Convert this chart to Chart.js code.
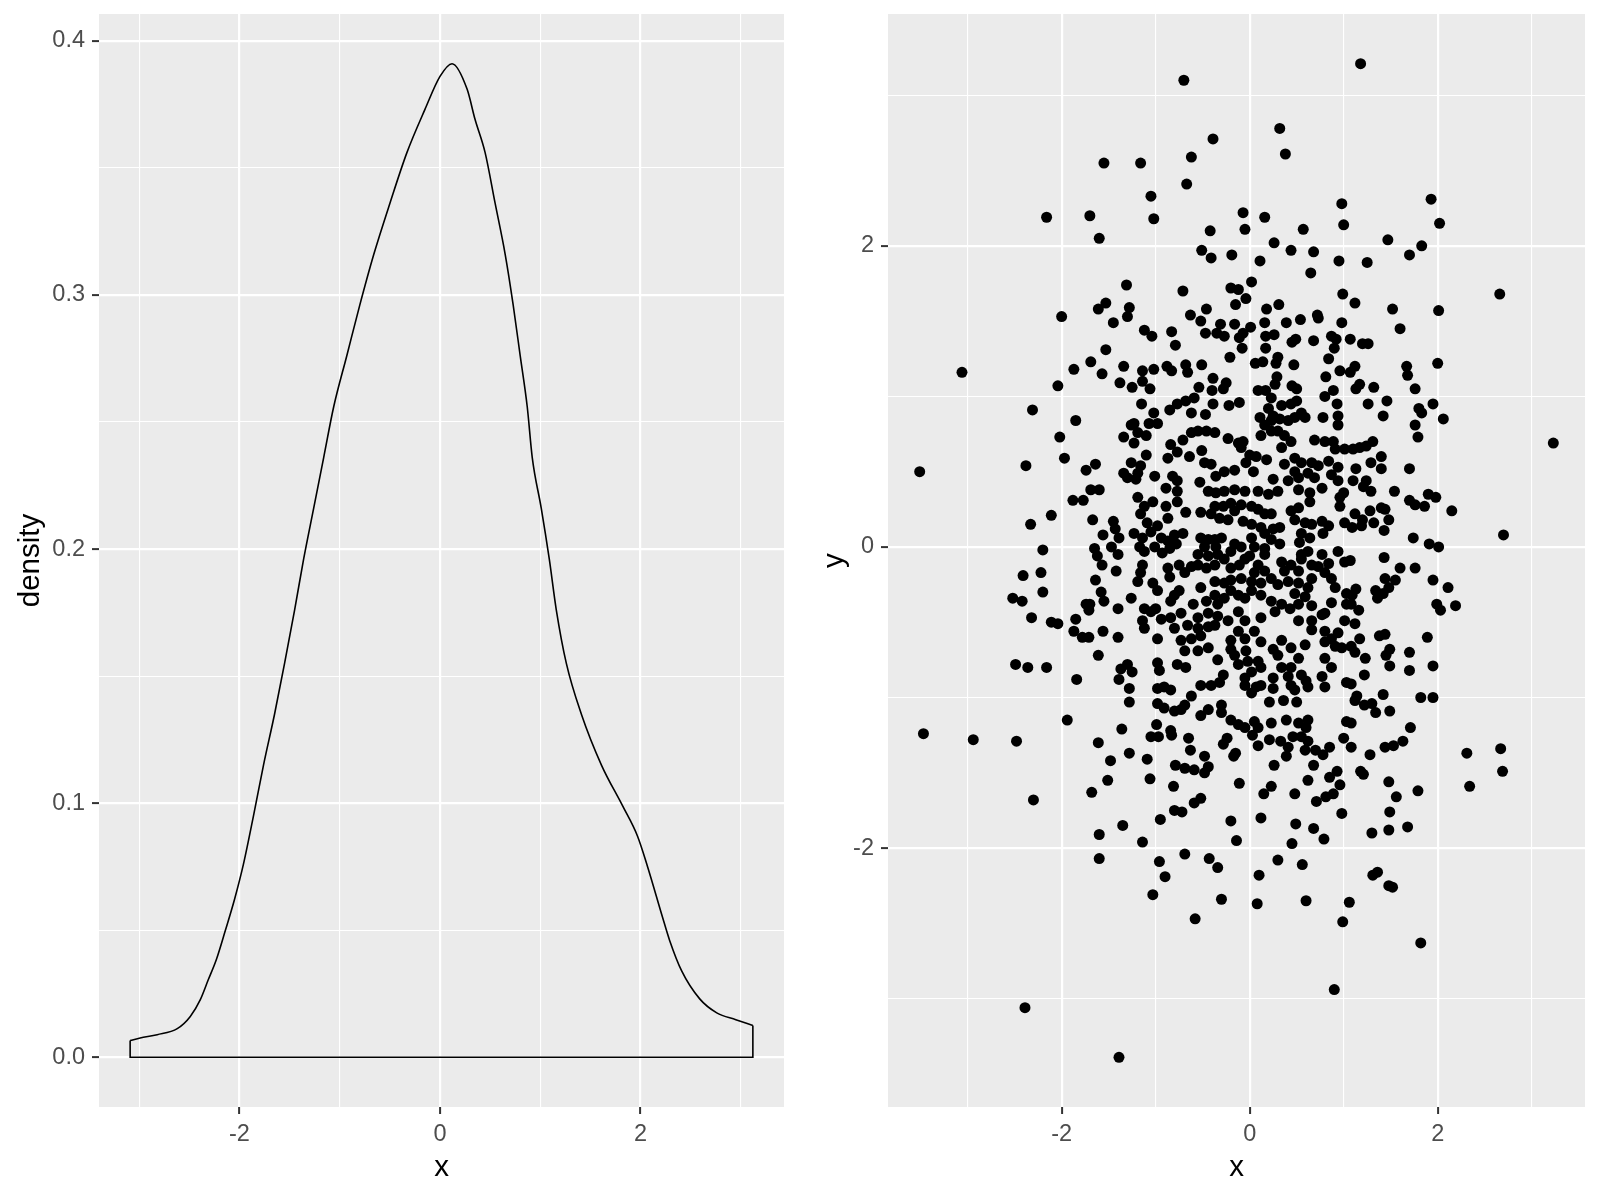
<!DOCTYPE html>
<html>
<head>
<meta charset="UTF-8">
<title>density + scatter</title>
<style>
  body { margin: 0; background: #fff; }
  .wrap { position: relative; width: 1600px; height: 1200px; }
  .panel { position: absolute; top: 0; width: 800px; height: 1200px; }
</style>
<script src="https://cdn.jsdelivr.net/npm/chart.js"></script>
</head>
<body>
<div class="wrap">
  <div class="panel" style="left:0"><canvas id="densityChart" width="800" height="1200"></canvas></div>
  <div class="panel" style="left:800px"><canvas id="scatterChart" width="800" height="1200"></canvas></div>
</div>
<script>
// density curve
const densityX = [-3.09, -2.99, -2.82, -2.62, -2.49, -2.39, -2.31, -2.23, -2.14, -2.05, -1.96, -1.86, -1.76, -1.65, -1.55, -1.45, -1.36, -1.26, -1.16, -1.06, -0.93, -0.80, -0.66, -0.50, -0.33, -0.15, 0.00, 0.12, 0.27, 0.35, 0.45, 0.55, 0.65, 0.73, 0.80, 0.87, 0.92, 1.01, 1.09, 1.16, 1.26, 1.41, 1.61, 1.82, 1.97, 2.07, 2.22, 2.29, 2.41, 2.59, 2.76, 2.95, 3.12];
const densityY = [0.0066, 0.0076, 0.0089, 0.0113, 0.0161, 0.0227, 0.0306, 0.0385, 0.050, 0.062, 0.076, 0.095, 0.115, 0.135, 0.155, 0.176, 0.196, 0.216, 0.236, 0.256, 0.276, 0.296, 0.316, 0.336, 0.356, 0.373, 0.386, 0.391, 0.381, 0.369, 0.356, 0.336, 0.316, 0.296, 0.276, 0.256, 0.236, 0.216, 0.196, 0.176, 0.155, 0.135, 0.115, 0.099, 0.087, 0.075, 0.055, 0.046, 0.034, 0.023, 0.0175, 0.0148, 0.0125];

// scatter points [x, y]
const scatterPoints = [
  [-1.55,2.55],[-2.16,2.19],[-1.70,2.20],[-1.60,2.05],[-1.53,1.62],[-1.61,1.58],[-2.00,1.53],[-1.45,1.49],[-1.53,1.31],[-1.69,1.23],
  [-1.34,1.20],[-1.87,1.18],[-1.57,1.15],[-1.38,1.09],[-3.06,1.16],[-2.04,1.07],
  [-0.70,3.10],[0.32,2.78],[-0.39,2.71],[0.38,2.61],[-1.16,2.55],[-0.62,2.59],[-0.67,2.41],[-1.05,2.33],[-1.02,2.18],[0.98,2.28],
  [1.00,2.14],[-0.07,2.22],[-0.05,2.11],[0.16,2.19],[0.57,2.11],[-0.42,2.10],[0.26,2.02],[-0.51,1.97],[-0.41,1.92],[-0.19,1.94],
  [0.44,1.97],[0.68,1.96],[0.11,1.90],[0.95,1.90],[0.65,1.82],[-1.31,1.74],[-0.71,1.70],[0.02,1.76],[-0.20,1.72],[-0.12,1.71],
  [-0.04,1.65],[-0.15,1.61],[0.99,1.68],[-1.28,1.59],[-1.30,1.53],[-0.46,1.58],[-0.63,1.54],[-0.52,1.50],[0.18,1.58],[0.31,1.61],
  [-0.31,1.48],[-0.16,1.48],[0.01,1.46],[0.16,1.49],[0.39,1.49],[0.54,1.51],[0.72,1.54],[0.73,1.52],[0.98,1.49],[-1.12,1.44],
  [-1.04,1.40],[-0.83,1.43],[-0.47,1.42],[-0.35,1.42],[-0.27,1.40],[-0.07,1.42],[-0.11,1.39],[0.17,1.40],[0.26,1.41],[0.45,1.36],
  [0.49,1.38],[0.68,1.37],[0.87,1.40],[0.92,1.38],[0.90,1.32],[-0.79,1.34],[-0.08,1.32],[0.17,1.32],[-0.21,1.26],[0.30,1.26],
  [0.28,1.22],[0.06,1.22],[0.14,1.23],[0.47,1.21],[0.84,1.25],[0.96,1.17],[0.81,1.13],[-1.14,1.17],[-1.02,1.18],[-0.88,1.20],
  [-0.83,1.17],[-0.68,1.21],[-0.66,1.16],[-0.51,1.21],[-0.39,1.12],[-0.54,1.06],[-1.14,1.10],[-1.25,1.06],[-1.06,1.05],[-0.25,1.09],
  [-0.28,1.05],[-0.40,1.04],[0.29,1.13],[0.27,1.08],[0.45,1.07],[0.50,1.05],[0.09,1.04],[0.17,1.04],[0.89,1.04],
  [1.18,3.21],[1.93,2.31],[2.02,2.15],[1.47,2.04],[1.83,2.00],[1.70,1.94],[1.25,1.89],[2.66,1.68],[1.12,1.62],[1.52,1.58],
  [2.01,1.57],[1.60,1.45],[1.07,1.38],[1.20,1.35],[1.26,1.35],[1.12,1.20],[1.07,1.16],[1.67,1.20],[1.68,1.14],[2.00,1.22],
  [1.17,1.08],[1.13,1.05],[1.32,1.06],[1.76,1.05],
  [-2.31,0.91],[-1.85,0.84],[-2.02,0.73],[-1.34,0.73],[-3.51,0.50],[-2.38,0.54],[-1.97,0.59],[-1.74,0.51],[-1.64,0.55],[-1.34,0.49],
  [-1.69,0.38],[-1.60,0.38],[-1.88,0.31],[-1.77,0.31],[-2.11,0.21],[-2.33,0.15],[-1.67,0.18],[-1.45,0.17],[-1.43,0.12],[-1.56,0.08],
  [-1.39,0.06],[-1.47,0.00],[-2.20,-0.02],[-1.65,-0.01],[-1.62,-0.06],[-1.40,-0.05],[-1.57,-0.12],[-1.42,-0.16],[-2.41,-0.19],[-2.22,-0.17],
  [-1.64,-0.22],[-2.20,-0.30],[-1.58,-0.30],[-1.55,-0.36],[-2.52,-0.34],[-2.42,-0.36],[-1.74,-0.38],[-1.70,-0.38],[-1.71,-0.42],[-1.40,-0.41],
  [-2.32,-0.47],[-2.11,-0.50],[-2.04,-0.51],[-1.85,-0.48],[-1.87,-0.56],[-1.78,-0.60],[-1.71,-0.60],[-1.56,-0.56],[-1.40,-0.60],[-1.61,-0.72],
  [-2.49,-0.78],[-2.36,-0.80],[-2.16,-0.80],[-1.84,-0.88],[-1.37,-0.81],[-1.39,-0.88],[-1.94,-1.15],[-3.47,-1.24],[-1.36,-1.21],
  [1.26,0.95],[1.46,0.97],[1.42,0.87],[1.80,0.92],[1.83,0.89],[1.95,0.95],[2.06,0.85],[1.76,0.81],[1.79,0.73],[3.23,0.69],
  [1.10,0.65],[1.17,0.66],[1.24,0.67],[1.31,0.70],[1.40,0.60],[1.29,0.56],[1.13,0.52],[1.40,0.52],[1.70,0.52],[1.10,0.44],
  [1.24,0.44],[1.21,0.40],[1.29,0.37],[1.54,0.37],[1.70,0.31],[1.76,0.28],[1.86,0.27],[1.90,0.35],[1.98,0.33],[2.15,0.24],
  [1.12,0.22],[1.20,0.18],[1.28,0.24],[1.40,0.26],[1.44,0.25],[1.48,0.18],[1.32,0.16],[1.09,0.13],[1.19,0.14],[1.43,0.11],
  [2.70,0.08],[1.74,0.06],[1.91,0.02],[2.01,0.00],[1.07,-0.09],[1.43,-0.07],[1.60,-0.14],[1.76,-0.14],[1.95,-0.22],[2.11,-0.27],
  [1.44,-0.21],[1.55,-0.22],[1.48,-0.27],[1.13,-0.28],[1.34,-0.29],[1.42,-0.31],[1.36,-0.34],[1.09,-0.32],[1.08,-0.38],[1.16,-0.42],
  [1.99,-0.38],[2.03,-0.42],[2.19,-0.39],[1.12,-0.51],[1.38,-0.59],[1.44,-0.58],[1.17,-0.61],[1.89,-0.60],[1.08,-0.66],[1.12,-0.70],
  [1.23,-0.74],[1.49,-0.68],[1.45,-0.72],[1.49,-0.79],[1.70,-0.70],[1.70,-0.82],[1.95,-0.79],[1.22,-0.85],[1.08,-0.91],[1.14,-0.99],
  [1.12,-1.02],[1.42,-0.98],[1.22,-1.05],[1.30,-1.04],[1.34,-1.10],[1.49,-1.09],[1.82,-1.00],[1.95,-1.00],[1.08,-1.17],[1.71,-1.20],
  [-2.94,-1.28],[-2.48,-1.29],[-1.61,-1.30],[-1.48,-1.42],[-1.51,-1.55],[-1.68,-1.63],[-2.30,-1.68],[-1.35,-1.85],[-1.60,-1.91],[-1.60,-2.07],
  [-2.39,-3.06],[-1.39,-3.39],
  [-1.05,-1.26],[-0.97,-1.26],[-0.83,-1.25],[-0.65,-1.27],[-1.28,-1.37],[-1.09,-1.41],[-0.63,-1.35],[-0.28,-1.31],[-0.24,-1.27],[-0.48,-1.39],
  [-0.44,-1.46],[-0.48,-1.50],[-0.79,-1.45],[-0.69,-1.47],[-0.59,-1.48],[-0.17,-1.39],[-0.15,-1.37],[-1.06,-1.54],[-0.81,-1.59],[-0.11,-1.57],
  [-0.52,-1.67],[-0.59,-1.70],[-0.80,-1.75],[-0.72,-1.76],[-0.95,-1.81],[-0.20,-1.82],[-1.14,-1.96],[-0.14,-1.95],[0.03,-1.25],[0.09,-1.32],
  [0.21,-1.28],[0.33,-1.29],[0.41,-1.33],[0.46,-1.26],[0.55,-1.26],[0.62,-1.29],[0.59,-1.35],[0.70,-1.35],[0.78,-1.38],[0.85,-1.33],
  [1.00,-1.27],[0.39,-1.39],[0.26,-1.45],[0.68,-1.45],[0.85,-1.53],[0.93,-1.49],[0.96,-1.58],[0.62,-1.55],[0.23,-1.59],[0.15,-1.64],
  [0.48,-1.64],[0.71,-1.69],[0.81,-1.66],[0.89,-1.64],[0.98,-1.77],[0.12,-1.80],[0.49,-1.84],[0.68,-1.87],[0.79,-1.94],[0.45,-1.97],
  [-0.69,-2.04],[-0.96,-2.09],[-0.90,-2.19],[-0.43,-2.07],[-0.34,-2.13],[-1.03,-2.31],[-0.30,-2.34],[-0.58,-2.47],[0.10,-2.18],[0.08,-2.37],
  [0.30,-2.08],[0.56,-2.11],[0.60,-2.35],[0.99,-2.49],[1.06,-2.36],[0.90,-2.94],
  [1.08,-1.33],[1.28,-1.38],[1.44,-1.33],[1.53,-1.32],[1.63,-1.29],[1.18,-1.49],[1.21,-1.51],[1.48,-1.56],[1.79,-1.62],[1.56,-1.66],
  [1.49,-1.76],[1.30,-1.90],[1.48,-1.88],[1.68,-1.86],[2.31,-1.37],[2.67,-1.34],[2.69,-1.49],[2.34,-1.59],[1.31,-2.18],[1.36,-2.16],
  [1.48,-2.25],[1.52,-2.26],[1.82,-2.63],
  // dense centre
  [-1.15,0.95],[-1.02,0.89],[-0.85,0.91],[-0.77,0.95],[-0.68,0.97],[-0.59,0.99],[-0.39,0.95],[-0.22,0.94],[-0.11,0.96],[-0.62,0.89],
  [-0.47,0.88],[0.23,0.99],[0.20,0.92],[0.34,0.94],[0.44,0.95],[0.50,0.97],[0.55,0.89],[0.80,1.00],[0.93,0.95],[0.25,0.87],
  [-1.23,0.82],[-1.26,0.81],[-1.07,0.82],[-0.98,0.82],[-1.19,0.76],[-1.10,0.74],[-1.23,0.69],[-0.62,0.76],[-0.55,0.77],[-0.46,0.77],
  [-0.37,0.76],[-0.23,0.72],[-0.12,0.69],[-0.07,0.70],[0.11,0.86],[0.16,0.81],[0.23,0.84],[0.32,0.85],[0.41,0.84],[0.48,0.86],
  [0.59,0.86],[0.78,0.86],[0.94,0.87],[0.94,0.81],[0.12,0.74],[0.23,0.77],[0.30,0.77],[0.37,0.74],[0.44,0.70],[0.69,0.71],
  [0.80,0.70],[0.89,0.70],[0.91,0.65],
  [-0.84,0.68],[-0.71,0.71],[-0.77,0.63],[-0.87,0.59],[-0.64,0.60],[-0.51,0.64],[-0.48,0.56],[-0.41,0.55],[-0.09,0.66],[0.00,0.61],
  [-0.04,0.56],[0.07,0.60],[0.18,0.58],[0.04,0.50],[0.34,0.66],[0.37,0.55],[0.48,0.59],[0.55,0.56],[0.66,0.56],[0.73,0.54],
  [0.84,0.57],[0.94,0.53],[1.01,0.65],[-1.26,0.56],[-1.10,0.61],[-1.16,0.54],[-1.19,0.49],
  [-1.30,0.46],[-1.21,0.45],[-1.01,0.47],[-0.82,0.47],[-0.77,0.44],[-0.89,0.39],[-0.77,0.37],[-0.53,0.43],[-0.36,0.47],[-0.27,0.50],
  [-0.16,0.51],[0.25,0.45],[0.41,0.44],[0.52,0.46],[0.48,0.50],[0.62,0.49],[0.69,0.46],[0.77,0.39],[0.87,0.48],[0.94,0.44],
  [1.00,0.36],[-0.44,0.37],[-0.36,0.36],[-0.27,0.37],[-0.16,0.38],[-0.05,0.37],[0.09,0.37],[0.20,0.35],[0.30,0.37],[-1.19,0.33],
  [0.52,0.38],
  [-1.12,0.27],[-1.03,0.30],[-0.89,0.27],[-0.77,0.30],[-1.16,0.22],[-1.09,0.16],[-0.98,0.14],[-0.87,0.19],[-0.68,0.23],[-0.52,0.23],
  [-0.41,0.22],[-0.32,0.19],[-0.23,0.18],[-0.16,0.24],[-0.09,0.28],[0.02,0.27],[0.09,0.25],[0.16,0.22],[0.23,0.22],[-0.37,0.27],
  [-0.28,0.27],[-0.20,0.29],[-0.07,0.17],[0.02,0.15],[0.12,0.13],[0.44,0.24],[0.52,0.26],[0.48,0.18],[0.59,0.16],[0.66,0.15],
  [0.77,0.17],[0.84,0.14],[0.64,0.30],[0.64,0.36],[0.78,0.09],[0.96,0.33],[0.96,0.27],[1.01,0.16],
  [-1.23,0.09],[-1.14,0.06],[-1.05,0.10],[-0.94,0.06],[-0.87,0.04],[-0.80,0.08],[-0.71,0.09],[-1.17,0.00],[-1.12,-0.03],[-1.01,0.00],
  [-0.93,-0.04],[-0.85,-0.01],[-0.78,0.02],[-0.52,0.06],[-0.44,0.05],[-0.37,0.05],[-0.30,0.06],[-0.48,0.00],[-0.36,0.00],[-0.16,0.02],
  [-0.09,0.00],[0.02,0.06],[0.05,0.00],[0.00,-0.06],[0.16,0.09],[0.25,0.12],[0.32,0.13],[0.23,0.05],[0.32,0.02],[0.16,-0.01],
  [0.16,-0.05],[0.55,0.09],[0.64,0.06],[0.53,0.03],[0.62,-0.03],[0.77,-0.05],[0.94,-0.03],[1.01,-0.10],[0.55,-0.05],
  [-1.14,-0.12],[-1.16,-0.17],[-0.87,-0.14],[-0.85,-0.20],[-0.75,-0.12],[-0.69,-0.17],[-0.62,-0.13],[-0.55,-0.12],[-0.55,-0.05],[-0.44,-0.06],
  [-0.34,-0.05],[-0.46,-0.14],[-0.37,-0.12],[-0.27,-0.08],[-0.20,-0.14],[-0.11,-0.12],[-0.20,-0.03],[-0.05,-0.08],[0.05,-0.17],[0.16,-0.16],
  [0.09,-0.12],[0.23,-0.21],[0.34,-0.10],[0.37,-0.16],[0.44,-0.12],[0.52,-0.16],[0.55,-0.08],[0.66,-0.12],[0.73,-0.13],[0.84,-0.11],
  [0.80,-0.17],[0.66,-0.21],[-1.19,-0.23],[-1.03,-0.24],[-0.98,-0.29],[-0.37,-0.23],[-0.27,-0.24],[-0.20,-0.22],[-0.09,-0.21],[0.02,-0.23],
  [0.12,-0.24],[0.30,-0.25],[0.41,-0.23],[0.52,-0.24],[0.62,-0.27],[0.87,-0.21],[0.91,-0.27],[-0.52,-0.27],
  [-1.26,-0.34],[-0.80,-0.32],[-0.75,-0.29],[-0.84,-0.36],[-1.12,-0.41],[-1.00,-0.41],[-1.05,-0.43],[-0.60,-0.38],[-0.46,-0.36],[-0.37,-0.32],
  [-0.34,-0.38],[-0.27,-0.34],[-0.20,-0.29],[-0.12,-0.32],[-0.05,-0.34],[0.02,-0.29],[0.12,-0.32],[0.23,-0.36],[0.34,-0.38],[0.43,-0.41],
  [0.52,-0.38],[0.48,-0.31],[0.59,-0.33],[0.66,-0.39],[0.80,-0.44],[0.87,-0.37],[1.03,-0.31],[1.03,-0.38],[-0.73,-0.44],[-0.84,-0.47],
  [-0.94,-0.48],[-1.14,-0.49],[-1.12,-0.54],[-0.55,-0.47],[-0.44,-0.44],[-0.34,-0.46],[-0.23,-0.49],[-0.12,-0.43],[-0.05,-0.49],[0.12,-0.47],
  [0.27,-0.43],[0.52,-0.49],[0.66,-0.49],[0.77,-0.45],
  [-0.80,-0.54],[-0.66,-0.52],[-0.55,-0.54],[-0.44,-0.53],[-0.37,-0.52],[-0.62,-0.61],[-0.73,-0.62],[-0.52,-0.59],[-0.98,-0.61],[-0.12,-0.56],
  [-0.05,-0.61],[0.05,-0.56],[0.12,-0.63],[-0.20,-0.62],[0.66,-0.55],[0.80,-0.56],[0.87,-0.61],[0.94,-0.57],[1.01,-0.49],[0.80,-0.63],
  [0.34,-0.62],[0.44,-0.67],[0.59,-0.65],[0.25,-0.68],[0.30,-0.72],[0.52,-0.74],[-0.44,-0.67],[-0.55,-0.69],[-0.69,-0.69],[-0.20,-0.68],
  [-0.04,-0.69],[0.98,-0.67],[0.91,-0.66],
  [-0.34,-0.75],[-0.16,-0.72],[-0.12,-0.78],[-0.02,-0.76],[0.09,-0.76],[0.02,-0.83],[-0.05,-0.87],[0.12,-0.80],[-0.98,-0.77],[-0.96,-0.82],
  [-0.77,-0.78],[-0.68,-0.80],[-1.30,-0.78],[-1.25,-0.83],[0.34,-0.80],[0.44,-0.80],[0.41,-0.86],[0.80,-0.74],[0.87,-0.80],[0.77,-0.86],
  [0.55,-0.85],[0.60,-0.89],[-0.28,-0.85],[-0.52,-0.92],[-0.41,-0.92],[-0.32,-0.90],[-0.05,-0.92],[0.07,-0.93],[0.25,-0.87],[0.25,-0.94],
  [-1.28,-0.94],[-1.28,-1.03],[-0.98,-0.94],[-0.91,-0.93],[-0.84,-0.95],[-0.62,-0.99],[0.02,-0.97],[0.12,-0.92],[0.44,-0.92],[0.48,-0.95],
  [0.62,-0.93],[0.80,-0.93],[1.03,-0.90],[0.21,-1.03],[0.36,-1.02],[0.50,-1.03],[-0.98,-1.04],[-0.91,-1.07],[-0.80,-1.09],[-0.73,-1.08],
  [-0.69,-1.05],[-0.52,-1.12],[-0.44,-1.08],[-0.30,-1.05],[-0.30,-1.10],[-0.20,-1.15],[-0.12,-1.18],[-0.05,-1.20],[0.05,-1.16],[0.09,-1.20],
  [0.23,-1.17],[0.39,-1.15],[0.52,-1.17],[0.62,-1.15],[0.60,-1.20],[-0.99,-1.18],[-0.84,-1.22],[1.03,-1.16]
];

// axis breaks
const densityBreaksX = [-3, -2, -1, 0, 1, 2, 3];
const densityLabelsX = [-2, 0, 2];
const densityBreaksY = [0, 0.05, 0.1, 0.15, 0.2, 0.25, 0.3, 0.35, 0.4];
const densityLabelsY = [0, 0.1, 0.2, 0.3, 0.4];
const scatterBreaks = [-3, -2, -1, 0, 1, 2, 3];
const scatterLabels = [-2, 0, 2];

const FONT = "'Liberation Sans', Arial, sans-serif";

function isMajor(v, majors) {
  return majors.some(m => Math.abs(m - v) < 1e-9);
}

// ggplot-like 5% expansion
function expandRange(lo, hi) {
  const d = (hi - lo) * 0.05;
  return [lo - d, hi + d];
}

function makeAxis(cfg) {
  return {
    type: 'linear',
    position: cfg.position,
    min: cfg.range[0],
    max: cfg.range[1],
    afterBuildTicks: s => { s.ticks = cfg.breaks.map(v => ({ value: v })); },
    afterFit: s => {
      if (cfg.position === 'left') s.width = cfg.size; else s.height = cfg.size;
      // no extra room for overhanging labels, the panel keeps its own margins
      s.paddingTop = 0; s.paddingBottom = 0; s.paddingLeft = 0; s.paddingRight = 0;
    },
    border: { display: false },
    grid: {
      color: '#FFFFFF',
      lineWidth: c => (c.tick && isMajor(c.tick.value, cfg.majors)) ? 2.2 : 1.1,
      tickColor: c => (c.tick && isMajor(c.tick.value, cfg.majors)) ? '#333333' : 'rgba(0,0,0,0)',
      tickLength: 7,
      tickWidth: 2,
      drawTicks: true
    },
    ticks: {
      autoSkip: false,
      maxRotation: 0,
      padding: cfg.tickPad,
      color: '#4D4D4D',
      font: { family: FONT, size: 23.5 },
      callback: v => isMajor(v, cfg.majors) ? cfg.fmt(v) : ''
    },
    title: {
      display: true,
      text: cfg.title,
      color: '#000000',
      font: { family: FONT, size: 29.5 },
      padding: cfg.titlePad
    }
  };
}

// grey panel background
const panelBg = {
  id: 'panelBg',
  beforeDraw(chart) {
    const { ctx, chartArea: a } = chart;
    ctx.save();
    ctx.fillStyle = '#EBEBEB';
    ctx.fillRect(a.left, a.top, a.right - a.left, a.bottom - a.top);
    ctx.restore();
  }
};

// ---- left: density outline ----
const dxMin = Math.min(...densityX), dxMax = Math.max(...densityX);
const curve = densityX.map((x, i) => ({ x: x, y: densityY[i] }));
const outline = [
  { x: dxMax, y: densityY[densityY.length - 1] },
  { x: dxMax, y: 0 },
  { x: dxMin, y: 0 },
  { x: dxMin, y: densityY[0] }
];

new Chart(document.getElementById('densityChart'), {
  type: 'scatter',
  data: {
    datasets: [
      { data: curve, showLine: true, borderColor: '#000', borderWidth: 1.6, pointRadius: 0,
        cubicInterpolationMode: 'monotone', fill: false },
      { data: outline, showLine: true, borderColor: '#000', borderWidth: 1.6, pointRadius: 0,
        tension: 0, fill: false }
    ]
  },
  options: {
    responsive: false,
    animation: false,
    layout: { padding: { top: 14, right: 16, left: 0, bottom: 0 } },
    plugins: { legend: { display: false }, tooltip: { enabled: false } },
    scales: {
      x: makeAxis({ position: 'bottom', range: expandRange(dxMin, dxMax), breaks: densityBreaksX,
        majors: densityLabelsX, fmt: v => String(v), size: 93, tickPad: 6,
        title: 'x', titlePad: { top: 0, bottom: 14 } }),
      y: makeAxis({ position: 'left', range: expandRange(0, Math.max(...densityY)), breaks: densityBreaksY,
        majors: densityLabelsY, fmt: v => v.toFixed(1), size: 99, tickPad: 7,
        title: 'density', titlePad: { top: 13, bottom: 0 } })
    }
  },
  plugins: [panelBg]
});

// ---- right: scatter ----
const sx = scatterPoints.map(p => p[0]);
const sy = scatterPoints.map(p => p[1]);

new Chart(document.getElementById('scatterChart'), {
  type: 'scatter',
  data: {
    datasets: [{
      data: scatterPoints.map(p => ({ x: p[0], y: p[1] })),
      backgroundColor: '#000000',
      borderWidth: 0,
      pointRadius: 5.5
    }]
  },
  options: {
    responsive: false,
    animation: false,
    layout: { padding: { top: 14, right: 15, left: 0, bottom: 0 } },
    plugins: { legend: { display: false }, tooltip: { enabled: false } },
    scales: {
      x: makeAxis({ position: 'bottom', range: expandRange(Math.min(...sx), Math.max(...sx)), breaks: scatterBreaks,
        majors: scatterLabels, fmt: v => String(v), size: 93, tickPad: 6,
        title: 'x', titlePad: { top: 0, bottom: 14 } }),
      y: makeAxis({ position: 'left', range: expandRange(Math.min(...sy), Math.max(...sy)), breaks: scatterBreaks,
        majors: scatterLabels, fmt: v => String(v), size: 88, tickPad: 7,
        title: 'y', titlePad: { top: 17, bottom: 0 } })
    }
  },
  plugins: [panelBg]
});
</script>
</body>
</html>
